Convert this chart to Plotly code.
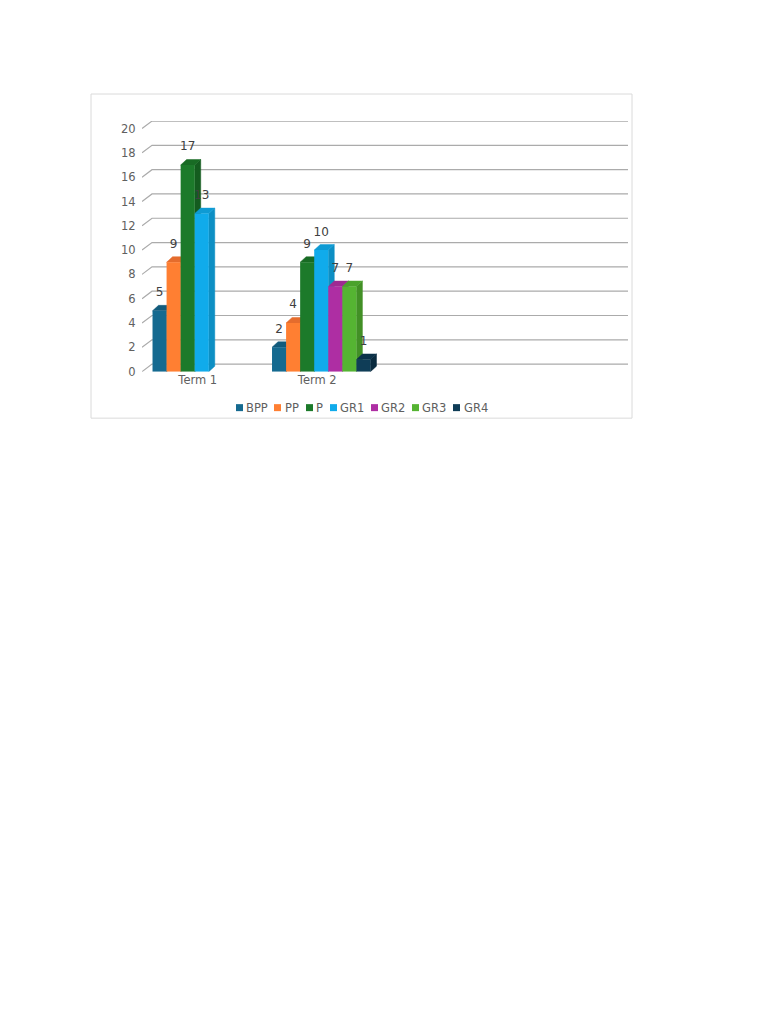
import plotly.graph_objects as go

categories = ["Term 1", "Term 2"]
series_names = ["BPP", "PP", "P", "GR1", "GR2", "GR3", "GR4"]
bpp = [5, 2]
pp = [9, 4]
p = [17, 9]
gr1 = [13, 10]
gr2 = [None, 7]
gr3 = [None, 7]
gr4 = [None, 1]
y_ticks = [0, 2, 4, 6, 8, 10, 12, 14, 16, 18, 20]

front_colors = ["#156A90", "#FF7F32", "#1C7A2A", "#10ABEB", "#AE2EA3", "#55B432", "#0F3D57"]
side_colors = ["#115674", "#D9652A", "#145C1F", "#0D8FC4", "#8D2484", "#429026", "#0A2B3F"]
top_colors = ["#125B7C", "#E56C2D", "#186B24", "#0E9BD4", "#9E2A92", "#4AA22C", "#0C3249"]
legend_swatch_x = [236, 274, 306, 330, 371, 412, 453]
legend_text_x = [246, 285, 316, 340, 381, 422, 464]

all_series = [bpp, pp, p, gr1, gr2, gr3, gr4]

# page is 768x1024, keep the figure small enough that the page does not scroll
PAGE_OFF = 8
W = 752
H = 1000
Y_FIX = 1.0074  # the photo comes out slightly squashed in y
def fx(px):
    return (px - PAGE_OFF) / W
def fy(px):
    return 1 - (px - PAGE_OFF) * Y_FIX / H

# pixel sizes
UNIT_X = 119.5
UNIT_Y = 12.15
x_max = (628 - 142) / UNIT_X
y_max = (371.5 - 121) / UNIT_Y
wall_dx = 10 / UNIT_X
wall_dy = 7.5 / UNIT_Y
bar_dx = 6 / UNIT_X
bar_dy = 5.5 / UNIT_Y
bar_gap = 0.176
bar_w = (1 - bar_gap) / 7
label_up = 17.5 / UNIT_Y

cat_x = [0.5, 1.5]
tick_x = [c - 4 / UNIT_X for c in cat_x]

fig = go.Figure()

# back wall grid lines
grid_x = []
grid_y = []
for t in y_ticks:
    grid_x += [0, wall_dx, x_max, None]
    grid_y += [t, t + wall_dy, t + wall_dy, None]
fig.add_trace(go.Scatter(x=grid_x, y=grid_y, mode="lines", showlegend=False, hoverinfo="skip",
                         line=dict(color="#ABABAB", width=1.2)))

# depth faces, left to right so the next bar covers the side before it
for c, cx in enumerate(cat_x):
    for i, values in enumerate(all_series):
        v = values[c]
        if v is None:
            continue
        left = cx + (i - 3.5) * bar_w
        right = left + bar_w
        fig.add_trace(go.Scatter(x=[right, right + bar_dx, right + bar_dx, right, right],
                                 y=[0, bar_dy, v + bar_dy, v, 0],
                                 fill="toself", mode="lines", fillcolor=side_colors[i],
                                 line=dict(color=side_colors[i], width=0.5),
                                 showlegend=False, hoverinfo="skip"))
        fig.add_trace(go.Scatter(x=[left, left + bar_dx, right + bar_dx, right, left],
                                 y=[v, v + bar_dy, v + bar_dy, v, v],
                                 fill="toself", mode="lines", fillcolor=top_colors[i],
                                 line=dict(color=top_colors[i], width=0.5),
                                 showlegend=False, hoverinfo="skip"))

# front faces and labels go on the overlay axes so they sit over the faces
for i, values in enumerate(all_series):
    fig.add_trace(go.Bar(x=cat_x, y=values, name=series_names[i], xaxis="x2", yaxis="y2",
                         marker=dict(color=front_colors[i], line=dict(width=0)), showlegend=False))
for i, values in enumerate(all_series):
    xs = [cx + (i - 3) * bar_w for cx, v in zip(cat_x, values) if v is not None]
    ys = [v + label_up for v in values if v is not None]
    txt = [str(v) for v in values if v is not None]
    fig.add_trace(go.Scatter(x=xs, y=ys, text=txt, mode="text", xaxis="x2", yaxis="y2",
                             textposition="middle center", showlegend=False, hoverinfo="skip",
                             textfont=dict(family="DejaVu Sans", size=12, color="#404040")))

shapes = [dict(type="rect", xref="paper", yref="paper", x0=fx(91), x1=fx(632), y0=fy(418), y1=fy(94),
               line=dict(color="#DADADA", width=1), fillcolor="rgba(0,0,0,0)", layer="below")]
annotations = []
for i, name in enumerate(series_names):
    shapes.append(dict(type="rect", xref="paper", yref="paper", x0=fx(legend_swatch_x[i]), x1=fx(legend_swatch_x[i] + 7),
                       y0=fy(411), y1=fy(404), line=dict(width=0), fillcolor=front_colors[i]))
    annotations.append(dict(text=name, xref="paper", yref="paper", x=fx(legend_text_x[i]), y=fy(407.5),
                            xanchor="left", yanchor="middle", showarrow=False, xshift=-2,
                            font=dict(family="DejaVu Sans", size=11.5, color="#606060")))

dom_x = [fx(142), fx(628)]
dom_y = [fy(371.5), fy(121)]
fig.update_layout(
    width=W, height=H, margin=dict(l=0, r=0, t=0, b=0), autosize=False,
    paper_bgcolor="#FFFFFF", plot_bgcolor="rgba(0,0,0,0)",
    barmode="group", bargap=bar_gap, bargroupgap=0,
    showlegend=False, shapes=shapes, annotations=annotations,
    font=dict(family="DejaVu Sans", size=11.5, color="#606060"),
    xaxis=dict(domain=dom_x, range=[0, x_max], tickvals=tick_x, ticktext=categories, showgrid=False,
               zeroline=False, showline=False, ticks="", ticklabelstandoff=0),
    yaxis=dict(domain=dom_y, range=[0, y_max], tickvals=y_ticks, showgrid=False, zeroline=False,
               showline=False, ticks="outside", ticklen=3, tickcolor="rgba(0,0,0,0)"),
    xaxis2=dict(domain=dom_x, range=[0, x_max], overlaying="x", visible=False),
    yaxis2=dict(domain=dom_y, range=[0, y_max], overlaying="y", visible=False),
)

fig.write_html("out.html")
